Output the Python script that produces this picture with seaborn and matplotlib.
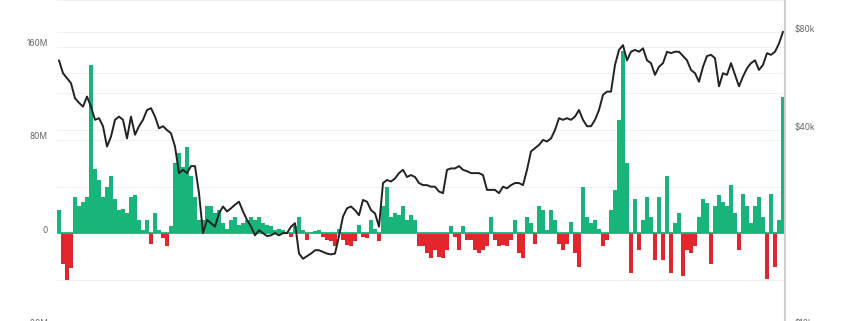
import numpy as np
import pandas as pd
import matplotlib
matplotlib.use("Agg")
import matplotlib.pyplot as plt
from matplotlib.transforms import ScaledTranslation
from matplotlib.ticker import NullLocator
import seaborn as sns

# Net flow per period (millions), left axis
flows_m = [
    20, -26, -40, -30, 31, 23, 27, 31, 144, 55,
    46, 31, 40, 49, 29, 20, 21, 17, 31, 33,
    11, 3, 11, -9, 17, 3, -4, -11, 6, 60,
    69, 57, 74, 49, 31, 11, 11, 23, 23, 17,
    20, 9, 4, 11, 14, 7, 9, 11, 14, 11,
    14, 9, 7, 6, 3, 4, 3, 1.5, -3, 6,
    14, 3, -6, 0.5, 2, 3, -3, -6, -7, -11,
    4, -6, -10, -11, -7, 7, -3, -4, 11, 4,
    -7, 23, 40, 14, 17, 16, 23, 11, 16, 11,
    -11, -11, -17, -21, -14, -20, -21, -14, 6, -3,
    -14, 6, -6, -6, -14, -17, -14, -11, 14, -6,
    -11, -10, -11, -6, 11, -17, -21, 14, 9, -9,
    23, 20, 3, 20, 11, -9, -14, -9, 10, -17,
    -29, 40, 14, 9, 11, 4, -11, -6, 20, 37,
    97, 156, 60, -34, 29, -14, 11, 31, 14, -23,
    31, -23, 49, -34, 9, 17, -37, -14, -17, -11,
    14, 29, 26, -26, 23, 33, 27, 23, 41, 17,
    -14, 34, 23, 9, 23, 31, 14, -39, 34, -29,
    11, 117,
]

# Price ($k), right axis (log scale)
price_k = [
    65.5, 59.8, 57.7, 55.7, 50.1, 48.5, 47.2, 50.7, 47.2, 43.0,
    43.5, 41.1, 35.6, 38.2, 43.0, 44.0, 43.0, 37.7, 44.0, 38.7,
    41.1, 43.0, 46.1, 46.7, 44.0, 40.5, 41.1, 40.0, 39.1, 35.6,
    29.5, 30.2, 29.5, 31.0, 31.0, 25.6, 19.3, 21.2, 20.7, 20.2,
    22.2, 23.3, 22.5, 23.0, 23.6, 24.1, 22.5, 21.2, 20.2, 19.0,
    19.7, 19.3, 18.9, 19.0, 19.3, 19.0, 19.3, 19.3, 20.2, 20.7,
    16.7, 16.1, 16.4, 16.7, 17.1, 17.1, 16.9, 16.7, 16.6, 16.7,
    18.9, 21.7, 23.0, 23.3, 22.7, 21.9, 24.4, 24.1, 22.7, 22.2,
    20.2, 27.5, 28.1, 27.8, 28.4, 29.5, 30.2, 28.7, 29.1, 28.7,
    27.5, 27.1, 27.1, 26.8, 26.8, 25.9, 25.6, 30.2, 30.5, 30.5,
    31.0, 30.2, 29.9, 29.5, 29.5, 29.5, 29.1, 26.2, 26.2, 26.2,
    25.6, 26.8, 26.5, 27.1, 27.5, 27.5, 27.1, 30.2, 34.4, 35.2,
    36.0, 37.3, 36.9, 37.7, 40.0, 43.5, 43.0, 43.5, 43.0, 44.0,
    46.1, 43.0, 41.1, 41.1, 43.0, 46.1, 51.3, 52.5, 52.5, 63.4,
    70.5, 72.9, 65.5, 69.6, 70.5, 69.6, 71.3, 65.5, 64.2, 59.1,
    62.6, 64.2, 69.6, 68.9, 69.6, 69.6, 67.5, 65.5, 61.2, 59.8,
    56.3, 62.6, 67.5, 68.1, 66.5, 54.5, 59.8, 59.1, 64.2, 59.1,
    54.5, 58.4, 61.9, 64.2, 65.5, 61.2, 63.4, 68.9, 68.1, 69.6,
    73.8, 80.2,
]

left_ticks_m = [-80, 0, 80, 160]
left_tick_labels = ["-80M", "0", "80M", "160M"]
right_ticks_k = [10, 40, 80]
right_tick_labels = ["\\$10k", "\\$40k", "\\$80k"]

GREEN = "#17b57a"
RED = "#e3262b"
LINE = "#222222"
GRID = "#f1f1f1"
LABEL = "#666666"

sns.set_theme(style="white")
plt.rcParams["font.family"] = ["Inter", "DejaVu Sans"]

n = len(flows_m)
df = pd.DataFrame({
    "idx": np.arange(n),
    "flow": np.array(flows_m) * 1e6,
    "price": np.array(price_k) * 1e3,
})
df["sign"] = np.where(df["flow"] >= 0, "in", "out")

fig = plt.figure(figsize=(8.45, 3.21), dpi=100)
ax = fig.add_axes([57 / 845, (321 - 335) / 321, 728 / 845, 345 / 321])

# gridlines (left axis, every 40M)
for v in [-80, -40, 40, 80, 120, 160, 200]:
    ax.axhline(v * 1e6, color=GRID, lw=0.8, zorder=0)

sns.barplot(data=df, x="idx", y="flow", hue="sign",
            palette={"in": GREEN, "out": RED}, dodge=False, width=1.0,
            saturation=1, errorbar=None, legend=False, linewidth=0, ax=ax)
ax.axhline(0, color=GREEN, lw=1.3, zorder=3)

ax.set_xlim(-0.5, n - 0.5)
ax.set_ylim(-87.2e6, 208.6e6)
ax.set_xticks([])
ax.set_xlabel("")
ax.set_ylabel("")
ax.set_yticks([v * 1e6 for v in left_ticks_m])
ax.set_yticklabels(left_tick_labels)
ax.tick_params(axis="y", length=0, pad=6.5, labelsize=6, labelcolor=LABEL)
for s in ax.spines.values():
    s.set_visible(False)

ax2 = ax.twinx()
ax2.set_yscale("log")
lo, hi = 9.39e3, 107.7e3
ax2.set_ylim(lo, hi)
# right-axis gridlines drawn behind the bars
for p in [40e3, 60e3, 80e3]:
    frac = (np.log(p) - np.log(lo)) / (np.log(hi) - np.log(lo))
    ax.plot([0, 1], [frac, frac], transform=ax.transAxes, color=GRID, lw=0.8, zorder=0)

sns.lineplot(data=df, x="idx", y="price", color=LINE, lw=1.4, ax=ax2)
ax2.set_ylim(lo, hi)
ax2.set_xlim(-0.5, n - 0.5)
ax2.yaxis.set_minor_locator(NullLocator())
ax2.set_yticks([v * 1e3 for v in right_ticks_k])
ax2.set_yticklabels(right_tick_labels)
ax2.yaxis.set_minor_locator(NullLocator())
ax2.set_ylabel("")
ax2.set_xlabel("")
ax2.tick_params(axis="y", length=0, pad=7, labelsize=6, labelcolor=LABEL)
for k, s in ax2.spines.items():
    s.set_visible(k == "right")
ax2.spines["right"].set_color("#cfcfcf")
ax2.spines["right"].set_linewidth(1.5)

offset = ScaledTranslation(0, 4 / 100, fig.dpi_scale_trans)
for lab in ax.get_yticklabels() + ax2.get_yticklabels():
    lab.set_transform(lab.get_transform() + offset)

fig.savefig("out.png", dpi=100)
